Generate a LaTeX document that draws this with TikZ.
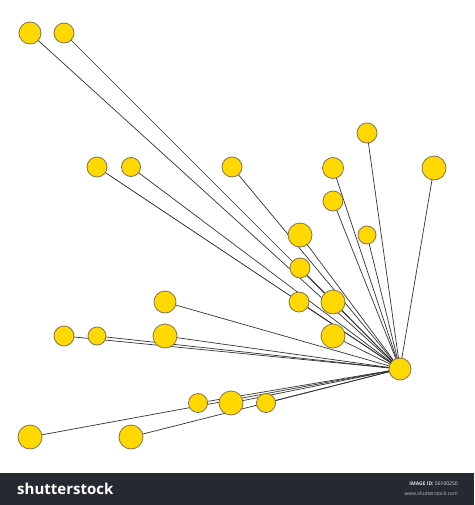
\documentclass[tikz,border=0pt]{standalone}
\usepackage{fontspec}
\setmainfont{Open Sans}
\begin{document}
\begin{tikzpicture}[x=1pt,y=-1pt,
  vert/.style={circle,draw=black!75!yellow!60!brown,line width=0.8pt,fill=vyellow,inner sep=0pt,minimum size=#1},
  vert/.default=21pt,
  edge/.style={draw=black!80,line width=0.7pt}]
\definecolor{vyellow}{RGB}{255,216,0}
\definecolor{barcol}{RGB}{37,41,50}
\useasboundingbox (0,0) rectangle (474,505);
\fill[white] (0,0) rectangle (474,505);
% node coordinates
\coordinate (hub) at (400,369);
\coordinate (a1) at (30,33);
\coordinate (a2) at (64,33);
\coordinate (b1) at (97,167);
\coordinate (b2) at (131,167);
\coordinate (b3) at (232,167);
\coordinate (c1) at (367,133);
\coordinate (c2) at (333,168);
\coordinate (c3) at (434,168);
\coordinate (c4) at (333,201);
\coordinate (c5) at (367,235);
\coordinate (c6) at (300,235);
\coordinate (c7) at (300,268);
\coordinate (d1) at (299,302);
\coordinate (d2) at (333,302);
\coordinate (d3) at (333,336);
\coordinate (e1) at (266,403);
\coordinate (f1) at (165,302);
\coordinate (f2) at (64,336);
\coordinate (f3) at (97,336);
\coordinate (f4) at (165,336);
\coordinate (g1) at (198,403);
\coordinate (g2) at (231,403);
\coordinate (h1) at (30,437);
\coordinate (h2) at (131,437);
% edges
\foreach \n in {a1,a2,b1,b2,b3,c1,c2,c3,c4,c5,c6,c7,d1,d2,d3,e1,f1,f2,f3,f4,g1,g2,h1,h2}
  \draw[edge] (\n) -- (hub);
% vertices
\node[vert=22pt] (n-a1) at (a1) {};
\node[vert=20pt] (n-a2) at (a2) {};
\node[vert=20pt] (n-b1) at (b1) {};
\node[vert=19pt] (n-b2) at (b2) {};
\node[vert=20pt] (n-b3) at (b3) {};
\node[vert=20pt] (n-c1) at (c1) {};
\node[vert=21pt] (n-c2) at (c2) {};
\node[vert=24pt] (n-c3) at (c3) {};
\node[vert=20pt] (n-c4) at (c4) {};
\node[vert=18pt] (n-c5) at (c5) {};
\node[vert=24pt] (n-c6) at (c6) {};
\node[vert=20pt] (n-c7) at (c7) {};
\node[vert=20pt] (n-d1) at (d1) {};
\node[vert=24pt] (n-d2) at (d2) {};
\node[vert=24pt] (n-d3) at (d3) {};
\node[vert=22pt] (n-hub) at (hub) {};
\node[vert=19pt] (n-e1) at (e1) {};
\node[vert=22pt] (n-f1) at (f1) {};
\node[vert=20pt] (n-f2) at (f2) {};
\node[vert=18pt] (n-f3) at (f3) {};
\node[vert=24pt] (n-f4) at (f4) {};
\node[vert=19pt] (n-g1) at (g1) {};
\node[vert=24pt] (n-g2) at (g2) {};
\node[vert=24pt] (n-h1) at (h1) {};
\node[vert=24pt] (n-h2) at (h2) {};
% bottom bar
\fill[barcol] (0,473) rectangle (474,505);
\node[anchor=west,text=white,font=\fontsize{15}{15}\selectfont\bfseries,inner sep=0pt] (logo) at (17,489) {shutterstock};
\node[anchor=east,text=white!85!barcol,font=\fontsize{5}{5}\selectfont,inner sep=0pt] (imgid) at (458,484) {\textbf{IMAGE ID:} 56100250};
\node[anchor=east,text=white!70!barcol,font=\fontsize{5}{5}\selectfont,inner sep=0pt] (www) at (458,494) {www.shutterstock.com};
\end{tikzpicture}
\end{document}
